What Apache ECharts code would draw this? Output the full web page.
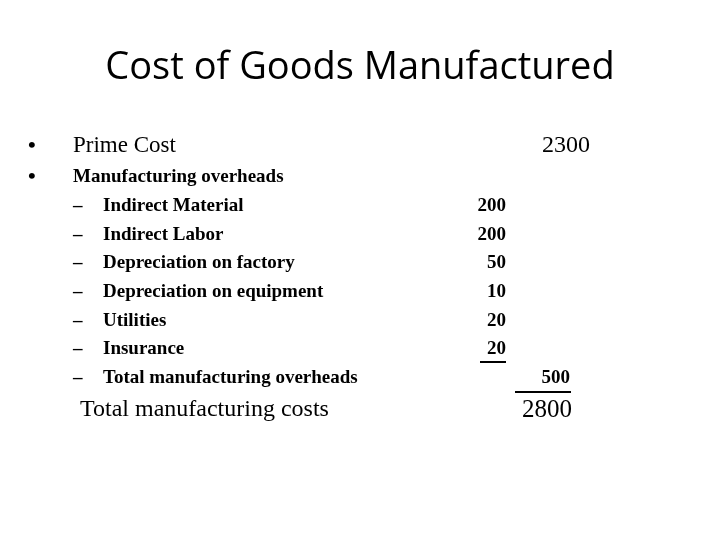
<!DOCTYPE html>
<html>
<head>
<meta charset="utf-8">
<script src="https://cdn.jsdelivr.net/npm/echarts@6/dist/echarts.min.js"></script>
<style>html,body{margin:0;background:#fff}#main{width:720px;height:540px}</style>
</head>
<body>
<div id="main"></div>
<script>
const title = 'Cost of Goods Manufactured';
const primeCost = 2300;
const overheadItems = ['Indirect Material', 'Indirect Labor', 'Depreciation on factory',
    'Depreciation on equipment', 'Utilities', 'Insurance'];
const overheadValues = [200, 200, 50, 10, 20, 20];
const totalOverheads = 500;
const totalCosts = 2800;

const serif = '"Liberation Serif", "Times New Roman", serif';
const chart = echarts.init(document.getElementById('main'));
const g = [];

function text(x, y, str, size, opts) {
    g.push({
        type: 'text', x: x, y: y,
        style: Object.assign({
            text: str, fontFamily: serif, fontSize: size, fill: '#000',
            textVerticalAlign: 'middle', textAlign: 'left',
        }, opts || {}),
    });
}
function line(x1, x2, y) {
    g.push({type: 'line', shape: {x1: x1, y1: y, x2: x2, y2: y}, style: {stroke: '#000', lineWidth: 2}});
}

text(360, 68, title, 38, {fontFamily: '"Open Sans", "Liberation Sans", sans-serif', textAlign: 'center'});
text(28, 146, '•', 22, {fontWeight: 'bold'});
text(73, 146, 'Prime Cost', 23);
text(590, 146, String(primeCost), 24, {textAlign: 'right'});
text(28, 177, '•', 22, {fontWeight: 'bold'});
text(73, 177, 'Manufacturing overheads', 19, {fontWeight: 'bold'});

const labels = overheadItems.concat(['Total manufacturing overheads']);
labels.forEach((name, i) => {
    const y = 206 + i * 28.7;
    text(73, y, '–', 19, {fontWeight: 'bold'});
    text(103, y, name, 19, {fontWeight: 'bold'});
    if (i < overheadValues.length) {
        text(506, y, String(overheadValues[i]), 19, {fontWeight: 'bold', textAlign: 'right'});
    }
});
line(480, 506, 362);
text(570, 378, String(totalOverheads), 19, {fontWeight: 'bold', textAlign: 'right'});
line(515, 571, 392);
text(80, 410, 'Total manufacturing costs', 24);
text(572, 410, String(totalCosts), 25, {textAlign: 'right'});

chart.setOption({graphic: g});
</script>
</body>
</html>
